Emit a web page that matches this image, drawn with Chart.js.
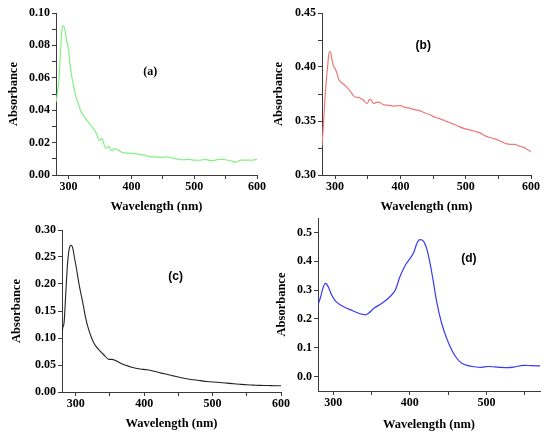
<!DOCTYPE html>
<html><head><meta charset="utf-8">
<script src="https://cdn.jsdelivr.net/npm/chart.js@4.4.1/dist/chart.umd.min.js"></script>
<style>
html,body{margin:0;padding:0;background:#fff;width:550px;height:439px;overflow:hidden;position:relative}
.p{position:absolute}
</style></head><body>
<div class="p" style="left:0px;top:0px;width:275px;height:215px"><canvas id="ca"></canvas></div>
<div class="p" style="left:265px;top:0px;width:285px;height:215px"><canvas id="cb"></canvas></div>
<div class="p" style="left:3px;top:215px;width:297px;height:224px"><canvas id="cc"></canvas></div>
<div class="p" style="left:268px;top:215px;width:282px;height:224px"><canvas id="cd"></canvas></div>
<script>
// ---- data ----
const waveA = [280,282,285,287,289,291.5,294,297,300,303,306,309,312,315,319,323,327,331,335,339,343,346,348,350,352,354,356,359,362,365,367,370,372,376,380,385,390,398,406,414,422,430,438,446,456,465,474,483,492,500,509,518,524,530,540,550,558,566,575,584,592,600];
const absA  = [0.045,0.050,0.060,0.075,0.088,0.0922,0.090,0.083,0.077,0.066,0.059,0.053,0.048,0.0445,0.040,0.037,0.0348,0.0328,0.031,0.0288,0.0267,0.024,0.0215,0.0213,0.0225,0.0222,0.0195,0.0165,0.0172,0.0175,0.0156,0.015,0.0163,0.016,0.0152,0.014,0.0136,0.0134,0.0132,0.0127,0.0122,0.0112,0.0112,0.0108,0.0112,0.0105,0.0098,0.0094,0.0096,0.0092,0.0091,0.0097,0.009,0.0089,0.0098,0.0094,0.0088,0.0079,0.0092,0.0092,0.0091,0.0098];

const waveB = [280,282,284.7,287,289,291,293,295,297,300,303,306,309,313,317,320,324,328,332,336,340,344,348,350,352,354.5,357,359,363,367,372,377,383,389,395,400,406,412,420,428,437,446,454,460,467,474,482,490,498,506,514,522,530,538,546,555,562,568,575,582,588,594,600];
const absB  = [0.327,0.345,0.3725,0.39,0.4034,0.414,0.414,0.408,0.402,0.3985,0.394,0.388,0.386,0.384,0.382,0.380,0.377,0.3735,0.372,0.3718,0.3705,0.369,0.3664,0.3668,0.3695,0.370,0.3675,0.3662,0.3672,0.3675,0.3658,0.3648,0.3645,0.3638,0.364,0.3643,0.3628,0.3622,0.3608,0.3598,0.3577,0.3555,0.3532,0.3522,0.3505,0.3488,0.347,0.3448,0.343,0.3418,0.3405,0.339,0.3362,0.3345,0.3332,0.3309,0.329,0.3283,0.3284,0.3268,0.3258,0.3237,0.3216];

const waveC = [280,281,283,285.4,288,291,293.5,296,298,301,305,310,314.6,319,323,326.6,330,334,341,348.5,353,358,365,373,382,394,404,416,425,433,443,453,462,472,482,492,501,511,521,531,541,550,560,569,580,590,600];
const absC  = [0.105,0.118,0.128,0.180,0.236,0.268,0.2717,0.265,0.250,0.2296,0.1987,0.168,0.137,0.1154,0.101,0.0907,0.084,0.078,0.069,0.0605,0.0605,0.0585,0.0537,0.0494,0.0457,0.0426,0.0413,0.038,0.035,0.0329,0.0298,0.0268,0.0245,0.0226,0.021,0.0195,0.0185,0.0177,0.0165,0.0152,0.0142,0.0134,0.0128,0.0122,0.012,0.0117,0.0115];

const waveD = [280,283.5,286.6,290,293.5,297.8,303,309.5,316,324.7,333,338,342,346,353,363.6,374,381,387,394,400,405,409,413,418,422,426,430.7,435,441.5,448,454.5,461,467.5,476,484,493.5,502,510,519,528,536,549,558,570];
const absD  = [0.248,0.277,0.308,0.323,0.311,0.283,0.262,0.248,0.239,0.229,0.2195,0.216,0.2138,0.2195,0.237,0.254,0.277,0.30,0.346,0.386,0.409,0.43,0.461,0.475,0.469,0.444,0.398,0.329,0.26,0.185,0.1334,0.093,0.0644,0.047,0.0379,0.034,0.032,0.035,0.034,0.032,0.031,0.033,0.039,0.038,0.037];

// ---- tick labels ----
const xMajor600 = [300,400,500,600];
const xMinor600 = [350,450,550];
const xMajorD = [300,400,500];
const xMinorD = [350,450,550];
const yMajorA = [0.00,0.02,0.04,0.06,0.08,0.10];
const yMinorA = [0.01,0.03,0.05,0.07,0.09];
const yMajorB = [0.30,0.35,0.40,0.45];
const yMinorB = [0.325,0.375,0.425];
const yMajorC = [0.00,0.05,0.10,0.15,0.20,0.25,0.30];
const yMinorC = [];
const yMajorD = [0.0,0.1,0.2,0.3,0.4,0.5];
const yMinorD = [];

const xTitle = 'Wavelength (nm)';
const yTitle = 'Absorbance';
const panelNames = ['(a)','(b)','(c)','(d)'];
const panelNameAt = [[430,0.0636],[435,0.420],[446,0.213],[477,0.41]];

// ---- drawing ----
const SERIF = '"Liberation Serif", "DejaVu Serif", serif';
const SANS = '"Liberation Sans", "DejaVu Sans", sans-serif';
const AX = '#3a3a3a';

const nameLabel = {
  id: 'nameLabel',
  afterDatasetsDraw(chart) {
    const o = chart.options.plugins.nameLabel;
    const ctx = chart.ctx;
    ctx.save();
    ctx.font = 'bold 12px ' + o.family;
    ctx.fillStyle = '#000';
    ctx.textAlign = 'center';
    ctx.textBaseline = 'middle';
    ctx.fillText(o.text, chart.scales.x.getPixelForValue(o.at[0]), chart.scales.y.getPixelForValue(o.at[1]));
    ctx.restore();
  }
};

function near(list, v) { return list.some(m => Math.abs(m - v) < 1e-9); }

function makeChart(cfg) {
  const pts = cfg.wave.map((w, i) => ({x: w, y: cfg.abs[i]}));
  const tickFont = {family: SERIF, weight: 'bold', size: 12};
  new Chart(document.getElementById(cfg.id), {
    type: 'line',
    data: {datasets: [{data: pts, borderColor: cfg.color, borderWidth: cfg.lw, pointRadius: 0, cubicInterpolationMode: 'monotone', fill: false}]},
    plugins: [nameLabel],
    options: {
      responsive: true, maintainAspectRatio: false, animation: false,
      layout: {padding: cfg.pad},
      plugins: {legend: {display: false}, tooltip: {enabled: false},
        nameLabel: {text: cfg.name, at: cfg.nameAt, family: cfg.nameFamily}},
      scales: {
        x: {
          type: 'linear', min: cfg.xr[0], max: cfg.xr[1],
          afterBuildTicks: s => { s.ticks = cfg.xMajor.concat(cfg.xMinor).sort((a,b)=>a-b).map(v => ({value: v})); },
          afterFit: s => { s.height = cfg.xH; s.paddingLeft = 0; s.paddingRight = 0; s.paddingTop = 0; s.paddingBottom = 0; },
          ticks: {autoSkip: false, maxRotation: 0, minRotation: 0, color: '#000', font: tickFont, padding: 1,
            callback: v => near(cfg.xMajor, v) ? String(v) : ''},
          grid: {drawOnChartArea: false, drawTicks: true, tickLength: 4, color: AX},
          border: {display: true, color: AX, width: 1},
          title: {display: true, text: xTitle, color: '#000', font: {family: SERIF, weight: 'bold', size: 12.5}, padding: {top: 0, bottom: cfg.xTitlePad}}
        },
        y: {
          type: 'linear', min: cfg.yr[0], max: cfg.yr[1],
          afterBuildTicks: s => { s.ticks = cfg.yMajor.concat(cfg.yMinor).sort((a,b)=>a-b).map(v => ({value: v})); },
          afterFit: s => { s.width = cfg.yW; s.paddingLeft = 0; s.paddingRight = 0; s.paddingTop = 0; s.paddingBottom = 0; },
          ticks: {autoSkip: false, color: '#000', font: tickFont, padding: 2,
            callback: v => near(cfg.yMajor, v) ? v.toFixed(cfg.dec) : ''},
          grid: {drawOnChartArea: false, drawTicks: true, tickLength: 4, color: AX},
          border: {display: true, color: AX, width: 1},
          title: {display: true, text: yTitle, color: '#000', font: {family: SERIF, weight: 'bold', size: 12.5}, padding: {top: 6, bottom: 0}}
        }
      }
    }
  });
}

function drawAll() {
  makeChart({id:'ca', wave: waveA, abs: absA, color: '#84f084', lw: 1.2, xr:[280,600], yr:[0,0.10],
    xMajor: xMajor600, xMinor: xMinor600, yMajor: yMajorA, yMinor: yMinorA, dec: 2,
    name: panelNames[0], nameAt: panelNameAt[0], nameFamily: SERIF,
    pad: {left:0, top:13, right:18, bottom:0}, yW: 56, xH: 40, xTitlePad: 1});
  makeChart({id:'cb', wave: waveB, abs: absB, color: '#f07878', lw: 1.2, xr:[280,600], yr:[0.30,0.45],
    xMajor: xMajor600, xMinor: xMinor600, yMajor: yMajorB, yMinor: yMinorB, dec: 2,
    name: panelNames[1], nameAt: panelNameAt[1], nameFamily: SANS,
    pad: {left:0, top:13, right:19, bottom:0}, yW: 57, xH: 40, xTitlePad: 1});
  makeChart({id:'cc', wave: waveC, abs: absC, color: '#222222', lw: 1.1, xr:[280,600], yr:[0,0.30],
    xMajor: xMajor600, xMinor: xMinor600, yMajor: yMajorC, yMinor: yMinorC, dec: 2,
    name: panelNames[2], nameAt: panelNameAt[2], nameFamily: SANS,
    pad: {left:0, top:15, right:19, bottom:0}, yW: 59, xH: 47, xTitlePad: 8});
  makeChart({id:'cd', wave: waveD, abs: absD, color: '#3a3af2', lw: 1.2, xr:[280,570], yr:[-0.05,0.55],
    xMajor: xMajorD, xMinor: xMinorD, yMajor: yMajorD, yMinor: yMinorD, dec: 1,
    name: panelNames[3], nameAt: panelNameAt[3], nameFamily: SANS,
    pad: {left:0, top:3, right:10, bottom:0}, yW: 50, xH: 48, xTitlePad: 7});
}

Promise.all([
  document.fonts.load('bold 12px "Liberation Serif"'),
  document.fonts.load('bold 12px "Liberation Sans"')
]).catch(() => {}).then(drawAll);
</script>
</body></html>
